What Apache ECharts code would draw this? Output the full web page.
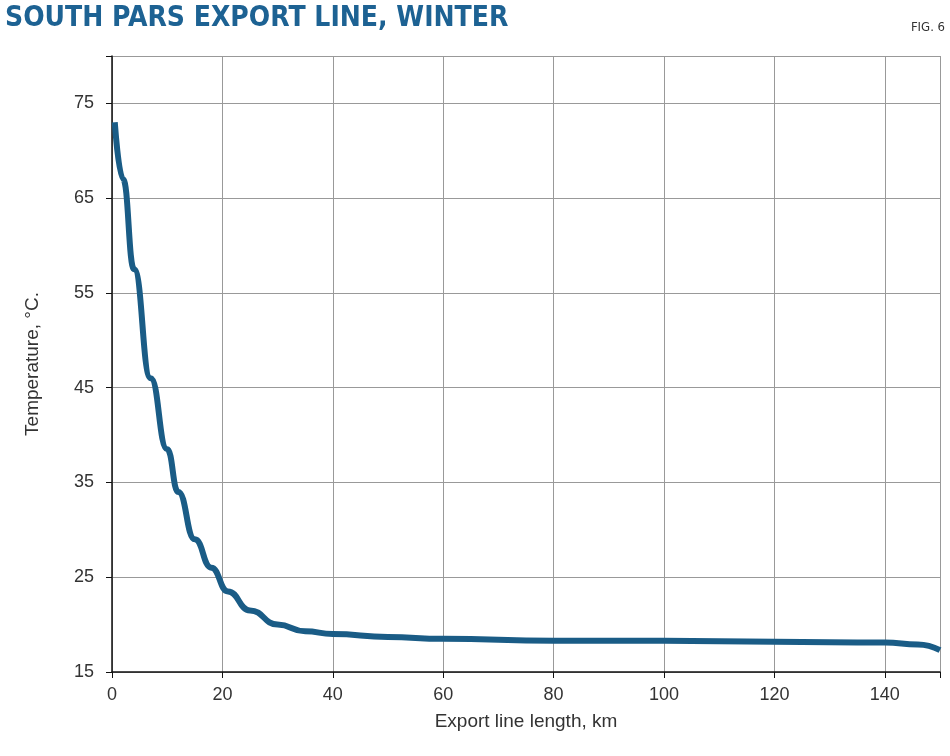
<!DOCTYPE html>
<html><head><meta charset="utf-8">
<script src="https://cdn.jsdelivr.net/npm/echarts@6/dist/echarts.min.js"></script>
<style>html,body{margin:0;background:#fff}#c{width:950px;height:756px}</style>
</head><body><div id="c"></div>
<script>
const lengthKm = [0.5, 2, 4, 7, 10, 12, 15, 18, 21, 25, 30, 35, 40, 50, 60, 80, 100, 120, 140, 146, 150];
const temperature = [73, 67, 57.5, 46, 38.5, 34, 29, 26, 23.5, 21.5, 20, 19.3, 19, 18.7, 18.5, 18.3, 18.3, 18.2, 18.1, 17.9, 17.3];

const chart = echarts.init(document.getElementById('c'));
chart.setOption({
  animation: false,
  title: [
    { text: 'SOUTH PARS EXPORT LINE, WINTER', left: 0, top: 0,
      textStyle: { color: '#1d6293', fontSize: 28, fontWeight: 'bold', fontFamily: 'DejaVu Sans Condensed' } },
    { text: 'FIG. 6', right: 0, top: 16,
      textStyle: { color: '#333', fontSize: 13, fontWeight: 'normal', fontFamily: 'DejaVu Sans Condensed' } }
  ],
  grid: { left: 112, right: 10, top: 56, bottom: 84 },
  xAxis: {
    type: 'value', min: 0, max: 150, interval: 20,
    name: 'Export line length, km', nameLocation: 'middle', nameGap: 40,
    nameTextStyle: { fontSize: 19, color: '#333', fontFamily: 'Liberation Sans' },
    axisLine: { lineStyle: { color: '#111', width: 1.5 } },
    axisTick: { show: true, length: 6, lineStyle: { color: '#111' } },
    axisLabel: { fontSize: 18, color: '#333', margin: 14, fontFamily: 'Liberation Sans',
      formatter: v => v === 150 ? '' : v },
    splitLine: { lineStyle: { color: '#999', width: 1 } }
  },
  yAxis: {
    type: 'value', min: 15, max: 80, interval: 10,
    name: 'Temperature, °C.', nameLocation: 'middle', nameGap: 70,
    nameTextStyle: { fontSize: 19, color: '#333', fontFamily: 'Liberation Sans' },
    axisLine: { show: true, lineStyle: { color: '#111', width: 1.5 } },
    axisTick: { show: true, length: 6, lineStyle: { color: '#111' } },
    axisLabel: { fontSize: 18, color: '#333', margin: 18, fontFamily: 'Liberation Sans',
      formatter: v => v === 80 ? '' : v },
    splitLine: { lineStyle: { color: '#999', width: 1 } }
  },
  series: [{
    type: 'line', smooth: 0.5, smoothMonotone: 'x', symbol: 'none',
    data: lengthKm.map((x, i) => [x, temperature[i]]),
    lineStyle: { color: '#1a5c86', width: 6 }
  }]
});
</script></body></html>
